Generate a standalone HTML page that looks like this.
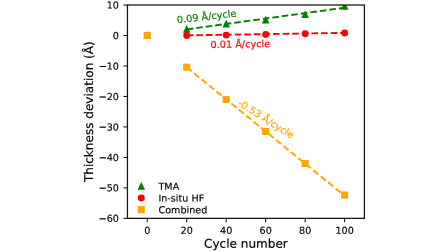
<!DOCTYPE html>
<html><head><meta charset="utf-8"><title>Thickness deviation vs cycle number</title>
<style>
html,body{margin:0;padding:0;background:#fff;}
svg{display:block}
text{stroke:#000;font-family:"DejaVu Sans","Liberation Sans",sans-serif;text-rendering:geometricPrecision;stroke-width:0.17px;paint-order:stroke fill;}
text.g{fill:#008000;stroke:#008000}text.r{fill:#ff0000;stroke:#ff0000}text.o{fill:#ffa500;stroke:#ffa500}
</style></head><body>
<svg width="448" height="252" viewBox="0 0 448 252">
<rect width="448" height="252" fill="#fff"/>
<line x1="147.20" y1="218.35" x2="147.20" y2="222.35" stroke="#000" stroke-width="1"/>
<text transform="translate(147.20,233.7) rotate(0.1)" font-size="9.6" text-anchor="middle">0</text>
<line x1="186.69" y1="218.35" x2="186.69" y2="222.35" stroke="#000" stroke-width="1"/>
<text transform="translate(186.69,233.7) rotate(0.1)" font-size="9.6" text-anchor="middle">20</text>
<line x1="226.18" y1="218.35" x2="226.18" y2="222.35" stroke="#000" stroke-width="1"/>
<text transform="translate(226.18,233.7) rotate(0.1)" font-size="9.6" text-anchor="middle">40</text>
<line x1="265.67" y1="218.35" x2="265.67" y2="222.35" stroke="#000" stroke-width="1"/>
<text transform="translate(265.67,233.7) rotate(0.1)" font-size="9.6" text-anchor="middle">60</text>
<line x1="305.16" y1="218.35" x2="305.16" y2="222.35" stroke="#000" stroke-width="1"/>
<text transform="translate(305.16,233.7) rotate(0.1)" font-size="9.6" text-anchor="middle">80</text>
<line x1="344.65" y1="218.35" x2="344.65" y2="222.35" stroke="#000" stroke-width="1"/>
<text transform="translate(344.65,233.7) rotate(0.1)" font-size="9.6" text-anchor="middle">100</text>
<line x1="123.45" y1="5.00" x2="127.45" y2="5.00" stroke="#000" stroke-width="1"/>
<text transform="translate(118.9,8.50) rotate(0.1)" font-size="9.6" text-anchor="end">10</text>
<line x1="123.45" y1="35.48" x2="127.45" y2="35.48" stroke="#000" stroke-width="1"/>
<text transform="translate(118.9,38.98) rotate(0.1)" font-size="9.6" text-anchor="end">0</text>
<line x1="123.45" y1="65.96" x2="127.45" y2="65.96" stroke="#000" stroke-width="1"/>
<text transform="translate(118.9,69.46) rotate(0.1)" font-size="9.6" text-anchor="end">−10</text>
<line x1="123.45" y1="96.44" x2="127.45" y2="96.44" stroke="#000" stroke-width="1"/>
<text transform="translate(118.9,99.94) rotate(0.1)" font-size="9.6" text-anchor="end">−20</text>
<line x1="123.45" y1="126.91" x2="127.45" y2="126.91" stroke="#000" stroke-width="1"/>
<text transform="translate(118.9,130.41) rotate(0.1)" font-size="9.6" text-anchor="end">−30</text>
<line x1="123.45" y1="157.39" x2="127.45" y2="157.39" stroke="#000" stroke-width="1"/>
<text transform="translate(118.9,160.89) rotate(0.1)" font-size="9.6" text-anchor="end">−40</text>
<line x1="123.45" y1="187.87" x2="127.45" y2="187.87" stroke="#000" stroke-width="1"/>
<text transform="translate(118.9,191.37) rotate(0.1)" font-size="9.6" text-anchor="end">−50</text>
<line x1="123.45" y1="218.35" x2="127.45" y2="218.35" stroke="#000" stroke-width="1"/>
<text transform="translate(118.9,221.85) rotate(0.1)" font-size="9.6" text-anchor="end">−60</text>
<defs><clipPath id="ax"><rect x="127.45" y="5.0" width="236.95" height="213.35"/></clipPath></defs><g clip-path="url(#ax)">
<line x1="186.69" y1="29.38" x2="344.65" y2="7.68" stroke="#008000" stroke-width="1.9" stroke-dasharray="6.6 3.0"/>
<line x1="186.69" y1="35.33" x2="344.65" y2="32.89" stroke="#ff0000" stroke-width="1.9" stroke-dasharray="6.6 3.0"/>
<line x1="186.69" y1="67.18" x2="344.65" y2="195.80" stroke="#ffa500" stroke-width="1.9" stroke-dasharray="6.6 3.0"/>
<polygon points="147.20,31.36 143.39,39.03 151.01,39.03" fill="#008000"/>
<polygon points="186.69,24.96 182.88,32.63 190.50,32.63" fill="#008000"/>
<polygon points="226.18,19.78 222.37,27.45 229.99,27.45" fill="#008000"/>
<polygon points="265.67,15.81 261.86,23.48 269.48,23.48" fill="#008000"/>
<polygon points="305.16,10.33 301.35,18.00 308.97,18.00" fill="#008000"/>
<polygon points="344.65,2.04 340.84,9.71 348.46,9.71" fill="#008000"/>
<circle cx="186.69" cy="35.48" r="3.45" fill="#ff0000"/>
<circle cx="226.18" cy="35.08" r="3.45" fill="#ff0000"/>
<circle cx="265.67" cy="34.41" r="3.45" fill="#ff0000"/>
<circle cx="305.16" cy="33.80" r="3.45" fill="#ff0000"/>
<circle cx="344.65" cy="33.04" r="3.45" fill="#ff0000"/>
<rect x="143.65" y="31.93" width="7.1" height="7.1" fill="#ffa500"/>
<rect x="183.14" y="63.63" width="7.1" height="7.1" fill="#ffa500"/>
<rect x="222.63" y="95.93" width="7.1" height="7.1" fill="#ffa500"/>
<rect x="262.12" y="127.94" width="7.1" height="7.1" fill="#ffa500"/>
<rect x="301.61" y="159.94" width="7.1" height="7.1" fill="#ffa500"/>
<rect x="341.10" y="191.48" width="7.1" height="7.1" fill="#ffa500"/>
</g>
<rect x="127.45" y="5.0" width="236.95" height="213.35" fill="none" stroke="#111" stroke-width="1.25"/>
<text transform="translate(177.3,23.2) rotate(-6.4)" font-size="9.72" class="g">0.09 Å/cycle</text>
<text transform="translate(210.5,48.0) rotate(-0.8)" font-size="9.72" class="r">0.01 Å/cycle</text>
<text transform="translate(264.2,121.9) rotate(32.3)" font-size="9.85" class="o" text-anchor="middle">-0.53 Å/cycle</text>
<polygon points="141.3,182.03 137.49,189.70 145.11,189.70" fill="#008000"/>
<text transform="translate(158.5,189.70) rotate(0.1)" font-size="9.6">TMA</text>
<circle cx="141.3" cy="197.95" r="3.45" fill="#ff0000"/>
<text transform="translate(158.5,201.50) rotate(0.1)" font-size="9.6">In-situ HF</text>
<rect x="137.75" y="206.10" width="7.1" height="7.1" fill="#ffa500"/>
<text transform="translate(158.5,213.20) rotate(0.1)" font-size="9.6">Combined</text>
<text transform="translate(245.92,247.8) rotate(0.1)" font-size="12.05" text-anchor="middle">Cycle number</text>
<text transform="translate(93.2,111.67) rotate(-90)" font-size="12.05" text-anchor="middle">Thickness deviation (Å)</text>
</svg></body></html>
